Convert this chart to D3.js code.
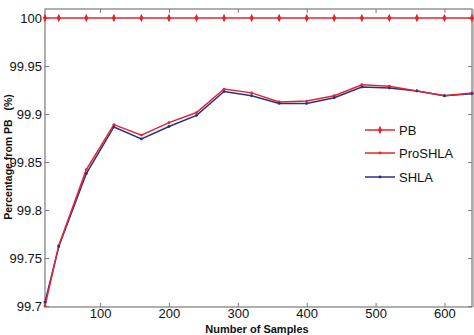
<!DOCTYPE html>
<html><head><meta charset="utf-8">
<script src="https://cdn.jsdelivr.net/npm/d3@7"></script>
<style>body{margin:0;background:#fff}svg{display:block}</style>
</head><body>
<svg id="c" width="474" height="335"></svg>
<script>
const samples = [20,40,80,120,160,200,240,280,320,360,400,440,480,520,560,600,640];
const pb      = [100,100,100,100,100,100,100,100,100,100,100,100,100,100,100,100,100];
const proshla = [99.700,99.763,99.842,99.889,99.878,99.891,99.9015,99.926,99.922,99.9125,99.9135,99.919,99.9305,99.929,99.924,99.919,99.922];
const shla    = [99.704,99.762,99.838,99.8865,99.874,99.887,99.8986,99.9235,99.919,99.911,99.911,99.917,99.928,99.927,99.924,99.919,99.921];
const xTicks = [100,200,300,400,500,600];
const yTicks = [99.7,99.75,99.8,99.85,99.9,99.95,100];
const seriesNames = ["PB","ProSHLA","SHLA"];

const svg = d3.select("#c");
const L=45, R=472, T=9, B=307;
const x = d3.scaleLinear().domain([20,640]).range([L,R]);
const y = d3.scaleLinear().domain([99.7,100]).range([306,18]);
const red="#e5262c", blue="#2a2f8c", axisC="#7a7a7a";
const font="'Liberation Sans', Arial, sans-serif";

// box
svg.append("rect").attr("x",L).attr("y",T).attr("width",R-L).attr("height",B-T)
  .attr("fill","none").attr("stroke",axisC).attr("stroke-width",1.2);
svg.append("line").attr("x1",R+0.5).attr("x2",R+0.5).attr("y1",T).attr("y2",B)
  .attr("stroke","#aaa").attr("stroke-width",2.5);

// axes
const xb = svg.append("g").attr("transform",`translate(0,${B})`)
  .call(d3.axisBottom(x).tickValues(xTicks).tickSizeInner(-4).tickSizeOuter(0).tickPadding(2));
const xt = svg.append("g").attr("transform",`translate(0,${T})`)
  .call(d3.axisTop(x).tickValues(xTicks).tickSizeInner(-4).tickSizeOuter(0).tickFormat(""));
const yl = svg.append("g").attr("transform",`translate(${L},0)`)
  .call(d3.axisLeft(y).tickValues(yTicks).tickSizeInner(-4).tickSizeOuter(0).tickPadding(3).tickFormat(d=>d3.format("")(+d.toFixed(2))));
const yr = svg.append("g").attr("transform",`translate(${R},0)`)
  .call(d3.axisRight(y).tickValues(yTicks).tickSizeInner(-4).tickSizeOuter(0).tickFormat(""));
[xb,xt,yl,yr].forEach(g=>{
  g.select(".domain").remove();
  g.selectAll(".tick line").attr("stroke",axisC);
  g.selectAll("text").attr("fill","#111").style("font-family",font).style("font-size","13px");
});

// lines
const line = vals => d3.line().x((d,i)=>x(samples[i])).y(d=>y(d))(vals);
const data = [
  {name:seriesNames[0], vals:pb, color:red, marker:"diamond"},
  {name:seriesNames[1], vals:proshla, color:red, marker:"dot"},
  {name:seriesNames[2], vals:shla, color:blue, marker:"dot"}
];
const plot = svg.append("g");
data.slice().reverse().forEach(s=>{
  plot.append("path").attr("d",line(s.vals)).attr("fill","none")
    .attr("stroke",s.color).attr("stroke-width",1.5);
});
function marker(g, cx, cy, s){
  if(s.marker==="diamond"){
    g.append("path").attr("d",d3.symbol(d3.symbolDiamond,16)()).attr("transform",`translate(${cx},${cy})`).attr("fill",s.color);
    g.append("line").attr("x1",cx).attr("x2",cx).attr("y1",cy-3.5).attr("y2",cy+3.5).attr("stroke",s.color).attr("stroke-width",1.2);
  } else {
    g.append("circle").attr("cx",cx).attr("cy",cy).attr("r",1.4).attr("fill",s.color);
  }
}
data.forEach(s=>{
  s.vals.forEach((v,i)=>marker(plot,x(samples[i]),y(v),s));
});

// legend
const leg = svg.append("g");
const ly = [130,153,177];
data.forEach((s,i)=>{
  leg.append("line").attr("x1",365).attr("x2",395).attr("y1",ly[i]).attr("y2",ly[i])
    .attr("stroke",s.color).attr("stroke-width",1.5);
  marker(leg,380,ly[i],s);
  leg.append("text").attr("x",399).attr("y",ly[i]).attr("dy","0.35em")
    .style("font-family",font).style("font-size","13px").attr("fill","#111").text(s.name);
});

// axis titles
svg.append("text").attr("x",257).attr("y",329.5).attr("dy","0.35em").attr("text-anchor","middle")
  .style("font-family",font).style("font-size","11px").style("font-weight","bold").attr("fill","#111")
  .text("Number of Samples");
svg.append("text").attr("transform","translate(8,157) rotate(-90)").attr("text-anchor","middle").attr("dy","0.35em")
  .style("font-family",font).style("font-size","10.5px").style("font-weight","bold").attr("fill","#111")
  .attr("xml:space","preserve").style("white-space","pre")
  .text("Percentage from PB   (%)");
</script>
</body></html>
